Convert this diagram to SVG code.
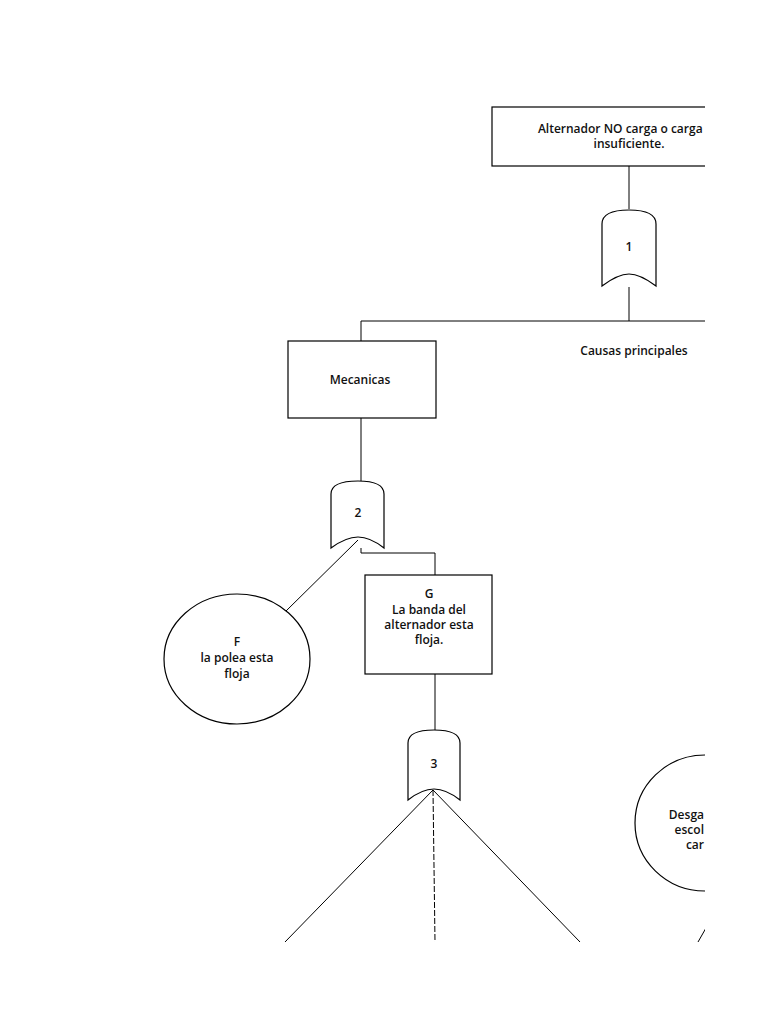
<svg xmlns="http://www.w3.org/2000/svg" width="768" height="1024" viewBox="0 0 768 1024">
<style>
.s{fill:#fff;stroke:#000;stroke-width:1.2}
.l{fill:none;stroke:#000;stroke-width:1}
text{font-family:"Open Sans","Liberation Sans",sans-serif;font-size:12px;font-weight:600;fill:#111;text-anchor:middle}
</style>
<defs><clipPath id="c"><rect x="0" y="0" width="705" height="1024"/></clipPath></defs>
<rect width="768" height="1024" fill="#fff"/>
<g clip-path="url(#c)">
<g id="connectors" class="l">
<path class="l" d="M629 166V209M629 287V321M361 321H720M361 321V341M361 418V481M358 540L285 612M361 548V553H435V575M435 674V730"/>
<path class="l" d="M433 790L285 942M433 790L580 942"/>
<path class="l" d="M433 790L435 942" stroke-dasharray="6 2"/>
<path class="l" d="M698 942L706 928"/>
</g>
<g id="top"><rect class="s" x="492" y="107" width="240" height="59"/><text x="629" y="133">Alternador NO carga o carga de</text><text x="629" y="148">insuficiente.</text></g>
<g id="gate1"><path class="s" d="M602 224Q602 210 629 210Q656 210 656 224V286Q640 274 629 274Q618 274 602 286Z"/><text x="629" y="251">1</text></g>
<g id="causas"><text x="634" y="355">Causas principales</text></g>
<g id="mecanicas"><rect class="s" x="288" y="341" width="148" height="77"/><text x="360" y="384">Mecanicas</text></g>
<g id="gate2"><path class="s" d="M331 494Q331 481 358 481Q384 481 384 494V548Q370 537 358 537Q346 537 331 548Z"/><text x="358" y="517">2</text></g>
<g id="F"><ellipse class="s" cx="237" cy="659" rx="73" ry="65"/><text x="237" y="646">F</text><text x="237" y="662">la polea esta</text><text x="237" y="678">floja</text></g>
<g id="G"><rect class="s" x="365" y="575" width="127" height="99"/><text x="429" y="598">G</text><text x="429" y="614">La banda del</text><text x="429" y="629">alternador esta</text><text x="429" y="644">floja.</text></g>
<g id="gate3"><path class="s" d="M408 743Q408 730 434 730Q460 730 460 743V800Q446 789 434 789Q422 789 408 800Z"/><text x="434" y="768">3</text></g>
<g id="desgaste"><ellipse class="s" cx="705" cy="823" rx="70" ry="68"/><text x="704" y="819" style="text-anchor:end">Desga</text><text x="704" y="834" style="text-anchor:end">escol</text><text x="704" y="849" style="text-anchor:end">car</text></g>
</g>
</svg>
